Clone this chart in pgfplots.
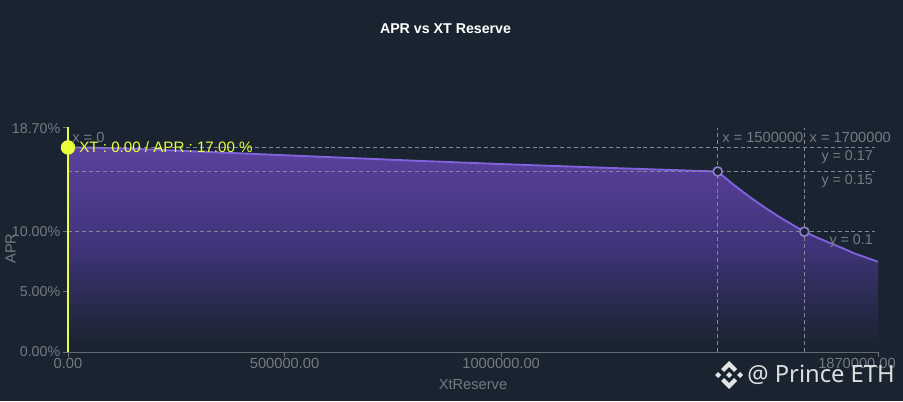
\documentclass[border=0pt]{standalone}
\usepackage{pgfplots}
\pgfplotsset{compat=1.18}
\usepackage{fontspec}
\setmainfont{Liberation Sans}
\newfontfamily\wmfont{Noto Sans}
\definecolor{bg}{HTML}{1A2430}
\definecolor{lbl}{HTML}{747A82}
\definecolor{axisgray}{HTML}{6E7379}
\definecolor{dashc}{HTML}{858892}
\definecolor{curve}{HTML}{7F62DC}
\definecolor{ringc}{HTML}{9080CC}
\definecolor{areatop}{HTML}{5B419E}
\definecolor{areamid}{HTML}{3E3378}
\definecolor{marker}{HTML}{E9FF3A}
\pgfdeclareverticalshading{areafade}{100bp}{color(0bp)=(bg); color(27bp)=(bg); color(50bp)=(areamid); color(75bp)=(areatop); color(100bp)=(areatop)}
\pgfplotstableread{
x y
0 17.00
60000 16.98
120000 16.92
200000 16.82
300000 16.66
536000 16.30
800000 15.90
1000000 15.62
1250000 15.30
1400000 15.12
1500000 15.00
1535000 13.95
1575000 12.85
1613000 11.90
1650000 11.05
1700000 10.00
1730000 9.50
1760000 9.05
1790000 8.60
1815000 8.20
1845000 7.82
1870000 7.50
}\curvedata
\begin{document}
\begin{tikzpicture}
\path[use as bounding box, fill=bg] (0,0) rectangle (677.25pt,300.75pt);
\begin{axis}[
  at={(51pt,36.75pt)}, anchor=south west,
  scale only axis, width=607.5pt, height=168.75pt,
  xmin=0, xmax=1870000, ymin=0, ymax=18.7,
  clip=false,
  scaled x ticks=false,
  axis x line=bottom, axis y line=left,
  axis line style={-, draw=axisgray, line width=.75pt},
  tick style={draw=axisgray, line width=.6pt},
  tick align=outside, major tick length=3.75pt,
  xtick={0,500000,1000000}, xticklabels={0.00,500000.00,1000000.00},
  extra x ticks={1870000}, extra x tick labels={1870000.00},
  extra x tick style={tick label style={xshift=-15.75pt}},
  ytick={0,5,10}, yticklabels={0.00\%,5.00\%,10.00\%},
  extra y ticks={18.7}, extra y tick labels={18.70\%},
  extra y tick style={tick label style={yshift=-1.5pt}},
  ticklabel style={text=lbl},
  xticklabel style={font=\fontsize{11pt}{12pt}\selectfont, yshift=2.5pt},
  yticklabel style={font=\fontsize{10.7pt}{12pt}\selectfont, xshift=1.5pt},
  xlabel={XtReserve}, ylabel={APR},
  label style={font=\fontsize{11pt}{12pt}\selectfont, text=lbl},
  xlabel style={at={(0.5,0)}, anchor=center, yshift=-24.5pt},
  ylabel style={at={(0,0.46)}, anchor=center, rotate=0, yshift=43pt},
  title={\textbf{APR vs XT Reserve}},
  title style={font=\fontsize{10.65pt}{12pt}\selectfont, text=white, at={(0.5,1)}, anchor=center, xshift=-20.6pt, yshift=67.5pt},
]
\addplot[draw=none, shade, shading=areafade] table[x=x,y=y]{\curvedata} \closedcycle;
\addplot[curve, line width=1.4pt] table[x=x,y=y]{\curvedata};
\addplot[dashc, line width=.7pt, dash pattern=on 3pt off 2.2pt] coordinates {(0,17) (1862000,17)};
\addplot[dashc, line width=.7pt, dash pattern=on 3pt off 2.2pt] coordinates {(0,15) (1862000,15)};
\addplot[dashc, line width=.7pt, dash pattern=on 3pt off 2.2pt] coordinates {(0,10) (1862000,10)};
\addplot[dashc, line width=.7pt, dash pattern=on 3pt off 2.2pt] coordinates {(1500000,0) (1500000,18.6)};
\addplot[dashc, line width=.7pt, dash pattern=on 3pt off 2.2pt] coordinates {(1700000,0) (1700000,18.6)};
\addplot[marker, line width=1.5pt] coordinates {(0,0) (0,18.7)};
\addplot[only marks, mark=*, mark size=3.4pt, mark options={draw=ringc, fill=bg, line width=1.2pt}] coordinates {(1500000,15) (1700000,10)};
\addplot[only marks, mark=*, mark size=5.2pt, mark options={draw=marker, fill=marker}] coordinates {(0,17)};
\node[anchor=west, text=lbl, font=\fontsize{11pt}{12pt}\selectfont, inner sep=0pt] at (axis cs:0,17.87) [xshift=3pt] {x = 0};
\node[anchor=west, text=marker, font=\fontsize{11.35pt}{12pt}\selectfont, inner sep=0pt] at (axis cs:0,17) [xshift=8.3pt] {XT : 0.00 / APR : 17.00 \%};
\node[anchor=west, text=lbl, font=\fontsize{11pt}{12pt}\selectfont, inner sep=0pt] at (axis cs:1500000,17.87) [xshift=3.2pt] {x = 1500000};
\node[anchor=west, text=lbl, font=\fontsize{11pt}{12pt}\selectfont, inner sep=0pt] at (axis cs:1700000,17.87) [xshift=3.8pt] {x = 1700000};
\node[anchor=east, text=lbl, font=\fontsize{10.7pt}{12pt}\selectfont, inner sep=0pt] at (axis cs:1870000,16.2) [xshift=-3.75pt] {y = 0.17};
\node[anchor=east, text=lbl, font=\fontsize{10.7pt}{12pt}\selectfont, inner sep=0pt] at (axis cs:1870000,14.2) [xshift=-3.75pt] {y = 0.15};
\node[anchor=east, text=lbl, font=\fontsize{10.7pt}{12pt}\selectfont, inner sep=0pt] at (axis cs:1870000,9.2) [xshift=-3.75pt] {y = 0.1};
\end{axis}
% watermark, origin at logo centre (729,375 px)
\begin{scope}[shift={(546.75pt,19.5pt)}, x=.75pt, y=.75pt, fill=white!88!bg]
\fill (0,3) -- (3,0) -- (0,-3) -- (-3,0) -- cycle;
\fill (-11,3) -- (-8,0) -- (-11,-3) -- (-14,0) -- cycle;
\fill (11,3) -- (14,0) -- (11,-3) -- (8,0) -- cycle;
\fill (0,14) -- (8,6) -- (5,3) -- (0,8) -- (-5,3) -- (-8,6) -- cycle;
\fill (0,-14) -- (8,-6) -- (5,-3) -- (0,-8) -- (-5,-3) -- (-8,-6) -- cycle;
\end{scope}
\node[anchor=west, inner sep=0pt, text=white!85!bg, font=\wmfont\fontsize{17.8pt}{20pt}\selectfont] at (560.3pt,19.5pt) {@ Prince ETH};
\end{tikzpicture}
\end{document}
